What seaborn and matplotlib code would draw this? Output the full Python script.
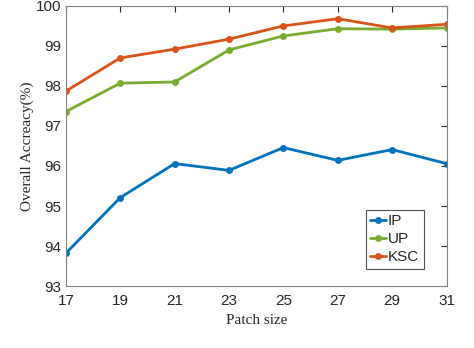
import matplotlib
matplotlib.use("Agg")
import matplotlib.pyplot as plt
import seaborn as sns
import pandas as pd

patch_size = [17, 19, 21, 23, 25, 27, 29, 31]
ip = [93.82, 95.21, 96.06, 95.89, 96.46, 96.14, 96.41, 96.06]
up = [97.36, 98.07, 98.10, 98.90, 99.25, 99.43, 99.42, 99.45]
ksc = [97.87, 98.70, 98.92, 99.17, 99.50, 99.68, 99.45, 99.54]
series_names = ["IP", "UP", "KSC"]
colors = ["#0072BD", "#77AC30", "#D95319"]

df = pd.DataFrame({"Patch size": patch_size * 3,
                   "value": ip + up + ksc,
                   "series": [s for s in series_names for _ in patch_size]})

sns.set_style("white")
plt.rcParams['font.family'] = ['Liberation Sans', 'DejaVu Sans']

fig = plt.figure(figsize=(4.74, 3.48), dpi=100)
ax = fig.add_axes([0.139, 0.178, 0.803, 0.805])
sns.lineplot(data=df, x="Patch size", y="value", hue="series", palette=colors,
             marker="o", markersize=5, markeredgewidth=0, linewidth=2, ax=ax)

ax.set_xlim(17, 31)
ax.set_ylim(93, 100)
ax.set_xticks(patch_size)
ax.set_yticks(range(93, 101))
ax.tick_params(direction="in", length=4, width=0.8, colors="#262626",
               labelsize=11, top=True, right=True, labeltop=False, labelright=False)
ax.tick_params(axis="x", pad=6)
ax.tick_params(axis="both", labelcolor="#262626")
for s in ax.spines.values():
    s.set_color("#808080")
    s.set_linewidth(0.8)
    s.set_visible(True)
ax.set_xlabel("Patch size", family="Liberation Serif", fontsize=11, color="#262626", labelpad=4)
ax.set_ylabel("Overall Accreacy(%)", family="Liberation Serif", fontsize=11, color="#262626", labelpad=1)

leg = ax.legend(loc="lower right", bbox_to_anchor=(0.94, 0.062), fontsize=11,
                frameon=True, fancybox=False, edgecolor="#262626",
                handlelength=1.0, handletextpad=0.15, borderpad=0.3, labelspacing=0.25,
                borderaxespad=0)
leg.get_frame().set_linewidth(0.8)

fig.savefig("out.png", dpi=100)
